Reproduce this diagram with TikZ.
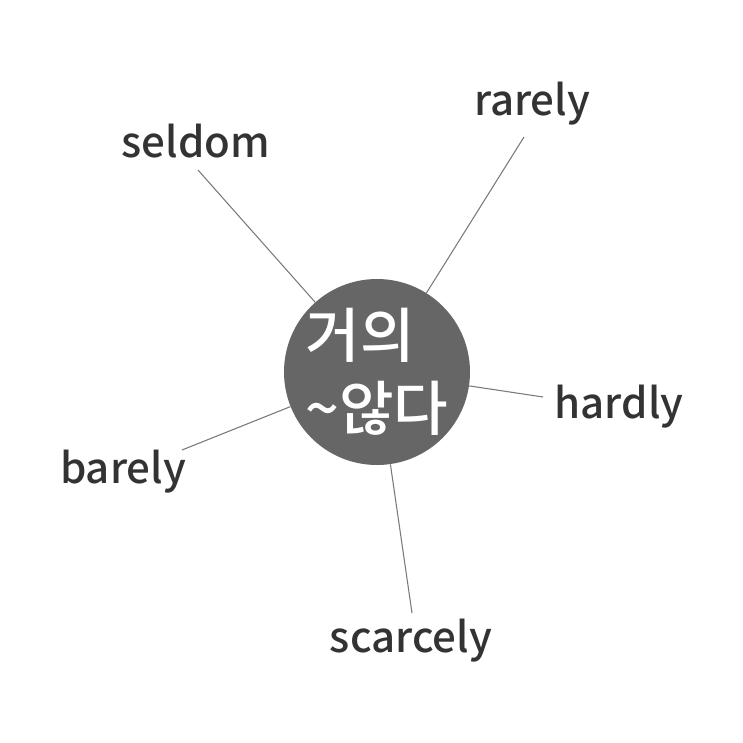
\documentclass[tikz,border=0pt]{standalone}
\usepackage{fontspec}
\setmainfont{Noto Sans CJK KR}
\newfontfamily\wordfont{Noto Sans CJK KR Medium}
\definecolor{hubgray}{HTML}{666666}
\definecolor{wordgray}{HTML}{333333}
\definecolor{spokegray}{HTML}{7A7A7A}
\tikzset{
  hub/.style={circle, fill=hubgray, text=white, minimum size=139.5pt, inner sep=-6pt,
    align=left, font=\wordfont\fontsize{44.5}{55}\selectfont},
  word/.style={anchor=base, text=wordgray, inner sep=0pt, font=\wordfont\fontsize{31.5}{34}\selectfont},
  spoke/.style={spokegray, line width=0.8pt}
}
\begin{document}
\begin{tikzpicture}[x=0.75pt, y=-0.75pt]
    \useasboundingbox (0,0) rectangle (743,743);

    \node[hub] (hub) at (377,372) {거의\\{\char"007E}않다};

    % label at its baseline, spoke ends a little short of it
    \foreach \w/\x/\y/\ex/\ey in {seldom/196/157/198/170, rarely/532/115/524/137,
        hardly/619/418/543/397, barely/123/483/182/450, scarcely/411/652/412/613}
    {
        \node[word] (\w) at (\x,\y) {\w};
        \coordinate (\w-end) at (\ex,\ey);
        \draw[spoke] (hub) -- (\w-end);
    }
\end{tikzpicture}
\end{document}
